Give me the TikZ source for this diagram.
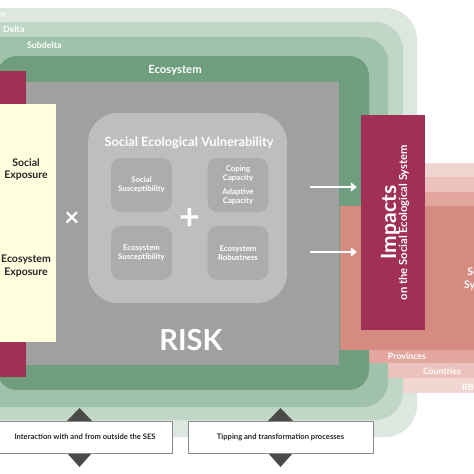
\documentclass[tikz,border=0pt]{standalone}
\usepackage{fontspec}
\setmainfont{Lato}
\usetikzlibrary{arrows.meta}
\definecolor{gA}{HTML}{DCE7DF}
\definecolor{gB}{HTML}{C0D6C6}
\definecolor{gC}{HTML}{A0C2AA}
\definecolor{gD}{HTML}{6F9E7F}
\definecolor{pA}{HTML}{F0D5D1}
\definecolor{pB}{HTML}{EBC2BC}
\definecolor{pC}{HTML}{E3A69E}
\definecolor{pD}{HTML}{D68B80}
\definecolor{riskgray}{HTML}{A0A0A0}
\definecolor{vulngray}{HTML}{BEBEBE}
\definecolor{subgray}{HTML}{ACACAC}
\definecolor{crim}{HTML}{A03055}
\definecolor{expo}{HTML}{FFFFDF}
\definecolor{tri}{HTML}{4A4A4A}
\definecolor{boxline}{HTML}{8A8A8A}
\begin{document}
\begin{tikzpicture}[x=1pt,y=-1pt,
  layerlabel/.style={text=white,font=\fontsize{8.8}{10}\selectfont\bfseries,inner sep=0pt},
  subbox/.style={fill=subgray,rounded corners=10pt,minimum width=61pt,minimum height=54pt,
    text=white,align=center,font=\fontsize{7.8}{9.2}\selectfont\bfseries},
  bottombox/.style={draw=boxline,line width=0.8pt,fill=white,minimum height=32pt,
    font=\fontsize{7.6}{8}\selectfont\bfseries,text=black!85},
  whitearrow/.style={draw=white,line width=2.4pt,-{Triangle[length=6pt,width=9pt]},shorten >=4pt},
  trishape/.style={fill=tri}
]
\useasboundingbox (0,0) rectangle (474,474);
\fill[white] (0,0) rectangle (474,474);

% nested green and pink layers
\fill[gA, rounded corners=32pt] (-60,8) rectangle (417,437);
\fill[pA] (340,163) rectangle (490,393);
\fill[gB, rounded corners=28pt] (-50,22) rectangle (403,420);
\fill[pB] (340,177) rectangle (490,378);
\fill[gC, rounded corners=25pt] (-40,37) rectangle (388,407);
\fill[pC] (340,192) rectangle (490,363);
\fill[gD, rounded corners=20pt] (-3,56) rectangle (369,390);
\fill[pD] (340,206) rectangle (490,350);

\node[layerlabel,anchor=east] (lregion) at (6,15) {n};
\node[layerlabel,anchor=west] (ldelta) at (3,29) {Delta};
\node[layerlabel,anchor=west] (lsubdelta) at (27,45) {Subdelta};
\node[layerlabel,font=\fontsize{11.3}{12}\selectfont\bfseries] (lecosystem) at (175,70) {Ecosystem};
\node[layerlabel] (lprovinces) at (407,356) {Provinces};
\node[layerlabel] (lcountries) at (442,371) {Countries};
\node[layerlabel,anchor=west] (lrb) at (462,387) {RB};
\node[layerlabel,align=center,font=\fontsize{10.5}{13}\selectfont\bfseries] (lsocial) at (481,279) {Social\\System};

% risk area
\node[fill=riskgray,minimum width=329pt,minimum height=283pt,inner sep=0pt] (risk) at (174.5,223.5) {};
\node[text=white,font=\fontsize{29}{30}\selectfont\bfseries] (risklabel) at (191,340) {RISK};

% vulnerability
\node[fill=vulngray,rounded corners=30pt,minimum width=199pt,minimum height=190pt,inner sep=0pt] (vuln) at (187.5,208) {};
\node[text=white,font=\fontsize{12.8}{14}\selectfont\bfseries] (vulntitle) at (189,143) {Social Ecological Vulnerability};
\node[subbox] (socsus) at (141.5,185) {Social\\Susceptibility};
\node[subbox,font=\fontsize{7.8}{9}\selectfont\bfseries] (coping) at (238,185) {Coping\\Capacity\\[5pt]Adaptive\\Capacity};
\node[subbox] (ecosus) at (141.5,253) {Ecosystem\\Susceptibility};
\node[subbox] (ecorob) at (238,253) {Ecosystem\\Robustness};
\node[text=white,font=\fontsize{36}{36}\selectfont\bfseries] (plus) at (190,219) {+};

% exposure
\node[fill=crim,minimum width=31pt,minimum height=306pt,inner sep=0pt] (leftbar) at (10.5,224) {};
\node[fill=expo,minimum width=60pt,minimum height=238pt,inner sep=0pt] (expo) at (26,223) {};
\node[font=\fontsize{10.5}{12.5}\selectfont\bfseries,align=center,text=black!85] (socexp) at (26,169.5) {Social\\Exposure};
\node[font=\fontsize{10.5}{12.5}\selectfont\bfseries,align=center,text=black!85] (ecoexp) at (26,266) {Ecosystem\\Exposure};
\node[text=white,font=\fontsize{26}{26}\selectfont\bfseries] (times) at (72,219) {×};

% impacts
\node[fill=crim,minimum width=64pt,minimum height=215pt,inner sep=0pt] (impacts) at (393,222.5) {};
\node[rotate=90,text=white,align=center,inner sep=0pt] (impactstext) at (395,222.5)
  {{\fontsize{21}{22}\selectfont\bfseries Impacts}\\[-1pt]{\fontsize{11.2}{13}\selectfont\bfseries on the Social Ecological System}};

\coordinate (a1) at (310,187);
\coordinate (a2) at (310,252);
\draw[whitearrow] (a1) -- (impacts.west |- a1);
\draw[whitearrow] (a2) -- (impacts.west |- a2);

% bottom boxes with diamonds
\fill[trishape] (67,421) -- (79.5,408) -- (92,421) -- cycle;
\fill[trishape] (67,453) -- (79.5,467) -- (92,453) -- cycle;
\fill[trishape] (268,421) -- (280.5,408) -- (293,421) -- cycle;
\fill[trishape] (268,453) -- (280.5,467) -- (293,453) -- cycle;
\node[bottombox,minimum width=174pt] (interaction) at (85,437) {Interaction with and from outside the SES};
\node[bottombox,minimum width=185pt] (tipping) at (280.5,437) {Tipping and transformation processes};
\end{tikzpicture}
\end{document}
